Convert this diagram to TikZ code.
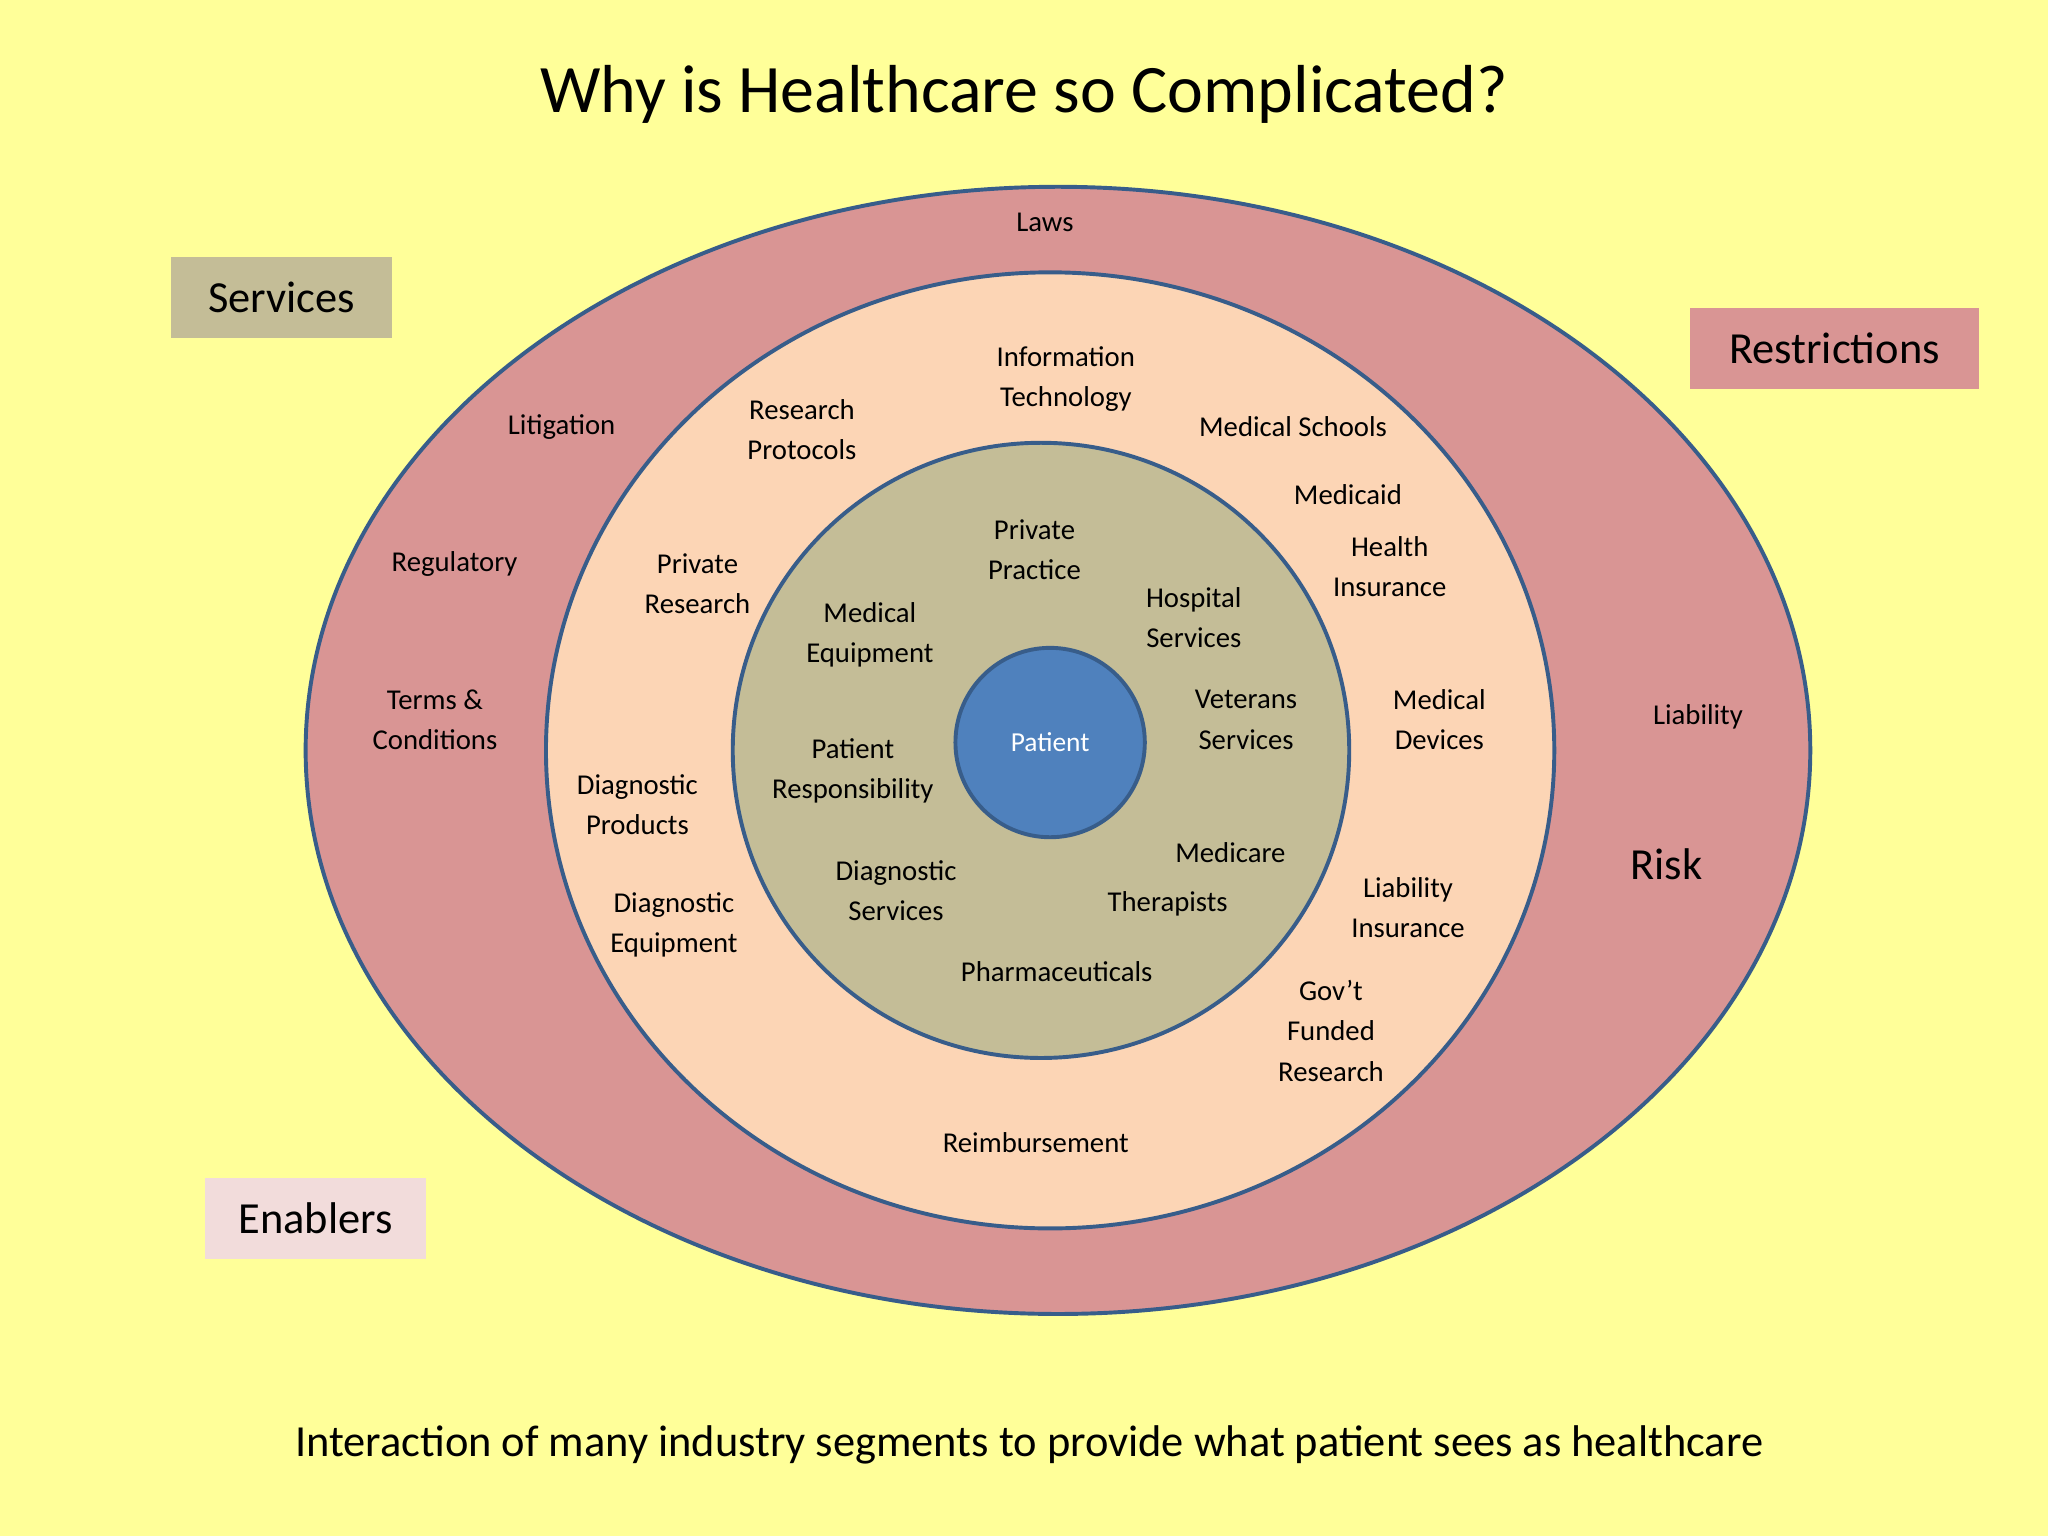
\documentclass[tikz,border=0pt]{standalone}
\usepackage{fontspec}
\setmainfont{Carlito}
\definecolor{bg}{HTML}{FFFF99}
\definecolor{outer}{HTML}{D99594}
\definecolor{mid}{HTML}{FCD5B5}
\definecolor{inner}{HTML}{C4BD97}
\definecolor{pat}{HTML}{4F81BD}
\definecolor{edge}{HTML}{385D8A}
\definecolor{enab}{HTML}{F2DCDB}
\begin{document}
\begin{tikzpicture}[x=1pt,y=-1pt,
  lbl/.style={align=center,font=\fontsize{22}{31}\selectfont},
  tag/.style={font=\fontsize{34}{40}\selectfont,minimum width=169pt,minimum height=62pt,inner sep=0pt},
  ring/.style={draw=edge,line width=3pt}]
\fill[bg] (0,0) rectangle (1568,1176);
\useasboundingbox (0,0) rectangle (1568,1176);
\node[font=\fontsize{52}{60}\selectfont] (title) at (784,72) {Why is Healthcare so Complicated?};
\draw[ring,fill=outer] (810,574.5) ellipse [x radius=576,y radius=431.5];
\draw[ring,fill=mid] (804,574.5) ellipse [x radius=386,y radius=366];
\draw[ring,fill=inner] (797,574.5) ellipse [x radius=236,y radius=235.5];
\node[ring,fill=pat,circle,minimum size=145pt,inner sep=0pt,text=white,font=\fontsize{21}{26}\selectfont] (patient) at (804,568.5) {Patient};
\node[tag,fill=inner,minimum width=169pt] (services) at (215.5,227.5) {Services};
\node[tag,fill=outer,minimum width=221pt] (restr) at (1404.5,267) {Restrictions};
\node[tag,fill=enab,minimum width=169pt] (enab) at (241.5,933) {Enablers};
% outer ring
\node[lbl] (laws) at (800,170) {Laws};
\node[lbl] (litig) at (430,327) {Litigation};
\node[lbl] (reg) at (348,432) {Regulatory};
\node[lbl] (terms) at (333,551) {Terms \&\\Conditions};
\node[lbl] (liab) at (1300,549) {Liability};
\node[font=\fontsize{34}{40}\selectfont] (risk) at (1276,662) {Risk};
% middle ring
\node[lbl] (rp) at (614,329) {Research\\Protocols};
\node[lbl] (it) at (816,290) {Information\\Technology};
\node[lbl] (ms) at (990,327) {Medical Schools};
\node[lbl] (mcaid) at (1032,379) {Medicaid};
\node[lbl] (hi) at (1064,434) {Health\\Insurance};
\node[lbl] (pr) at (534,447) {Private\\Research};
\node[lbl] (md) at (1102,551) {Medical\\Devices};
\node[lbl] (dp) at (488,616) {Diagnostic\\Products};
\node[lbl] (de) at (516,708) {Diagnostic\\Equipment};
\node[lbl] (li) at (1078,695) {Liability\\Insurance};
\node[lbl] (gov) at (1019,789) {Gov’t\\Funded\\Research};
\node[lbl] (reimb) at (793,875) {Reimbursement};
% inner circle
\node[lbl] (pp) at (792,421) {Private\\Practice};
\node[lbl] (me) at (666,486) {Medical\\Equipment};
\node[lbl] (hs) at (914,473) {Hospital\\Services};
\node[lbl] (vs) at (954,551) {Veterans\\Services};
\node[lbl] (presp) at (653,590) {Patient\\Responsibility};
\node[lbl] (ds) at (686,682) {Diagnostic\\Services};
\node[lbl] (mcare) at (942,653) {Medicare};
\node[lbl] (ther) at (894,692) {Therapists};
\node[lbl] (pharm) at (809,744) {Pharmaceuticals};
\node[font=\fontsize{34}{40}\selectfont] (cap) at (788,1106) {Interaction of many industry segments to provide what patient sees as healthcare};
\end{tikzpicture}
\end{document}
